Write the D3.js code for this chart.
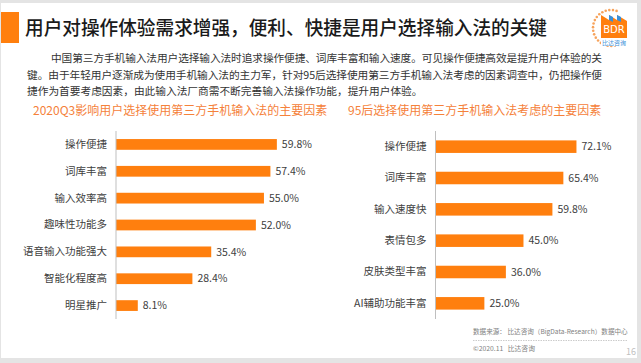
<!DOCTYPE html>
<html>
<head>
<meta charset="utf-8">
<script src="https://cdn.jsdelivr.net/npm/d3@7"></script>
<style>
  body { margin: 0; background: #e4e4e4; }
  svg { display: block; font-family: "Noto Sans CJK SC", "Noto Sans", sans-serif; }
</style>
</head>
<body>
<div id="chart-area"></div>
<script>
// data
var leftTitle = "2020Q3影响用户选择使用第三方手机输入法的主要因素"
var leftCats = ["操作便捷", "词库丰富", "输入效率高", "趣味性功能多", "语音输入功能强大", "智能化程度高", "明星推广"]
var leftVals = [59.8, 57.4, 55.0, 52.0, 35.4, 28.4, 8.1]

var rightTitle = "95后选择使用第三方手机输入法考虑的主要因素"
var rightCats = ["操作便捷", "词库丰富", "输入速度快", "表情包多", "皮肤类型丰富", "AI辅助功能丰富"]
var rightVals = [72.1, 65.4, 59.8, 45.0, 36.0, 25.0]

var pageTitle = "用户对操作体验需求增强，便利、快捷是用户选择输入法的关键"
var paraLines = [
    "中国第三方手机输入法用户选择输入法时追求操作便捷、词库丰富和输入速度。可见操作便捷高效是提升用户体验的关",
    "键。由于年轻用户逐渐成为使用手机输入法的主力军，针对95后选择使用第三方手机输入法考虑的因素调查中，仍把操作便",
    "捷作为首要考虑因素，由此输入法厂商需不断完善输入法操作功能，提升用户体验。"
]
var sourceText = "数据来源： 比达咨询（BigData-Research）数据中心"
var copyText = "©2020.11   比达咨询"
var pageNum = "16"

var orange = "#ff7f0e"
var titleOrange = "#f5813a"

var width = 641, height = 363

var svg = d3.select("#chart-area")
    .append("svg")
    .attr("width", width)
    .attr("height", height)

// white slide
svg.append("rect")
    .attr("x", 1).attr("y", 3)
    .attr("width", 636).attr("height", 355)
    .attr("fill", "#fff")

// title block
svg.append("rect")
    .attr("x", 1).attr("y", 12)
    .attr("width", 18).attr("height", 31)
    .attr("fill", orange)

svg.append("text")
    .attr("x", 25).attr("y", 35)
    .attr("font-size", "19px")
    .attr("font-weight", 500)
    .attr("fill", "#1a1a1a")
    .attr("textLength", 522)
    .attr("lengthAdjust", "spacingAndGlyphs")
    .text(pageTitle)

// paragraph
var paraX = [51, 27, 27]
var paraLen = [551, 575, null]
paraLines.forEach(function(line, i) {
    var t = svg.append("text")
        .attr("x", paraX[i])
        .attr("y", 62 + i * 16.5)
        .attr("font-size", "10.7px")
        .attr("fill", "#333")
        .text(line)
    if (paraLen[i]) {
        t.attr("textLength", paraLen[i]).attr("lengthAdjust", "spacing")
    }
})

// logo (rough)
var logo = svg.append("g").attr("transform", "translate(611,28)")
d3.range(0, 20).forEach(function(k) {
    // dotted ring from top round the left side to the bottom
    var a = Math.PI * (0.4 + k * 0.065)
    logo.append("circle")
        .attr("cx", 18 * Math.cos(a))
        .attr("cy", -18 * Math.sin(a))
        .attr("r", 1.3)
        .attr("fill", "#f7a35c")
})
logo.append("path")
    .attr("d", "M-10,-13 L-2,-8 L-2,-13 L6,-8 L6,-13 L16,-7 L16,10 L-10,10 Z")
    .attr("fill", orange)
logo.append("path")
    .attr("d", "M-2,-13 L-2,-8 L2,-6 L2,-11 Z M6,-13 L6,-8 L10,-6 L10,-11 Z")
    .attr("fill", "#3b8fd8")
logo.append("text")
    .attr("x", 3).attr("y", 5)
    .attr("text-anchor", "middle")
    .attr("font-size", "10px")
    .attr("font-family", "DejaVu Sans, sans-serif")
    .attr("fill", "#fff")
    .text("BDR")
logo.append("rect")
    .attr("x", -10).attr("y", 10).attr("width", 26).attr("height", 8)
    .attr("fill", "#fff")
logo.append("text")
    .attr("x", 3).attr("y", 16.5)
    .attr("text-anchor", "middle")
    .attr("font-size", "6px")
    .attr("fill", "#3b8fd8")
    .text("比达咨询")

// one bar chart
function drawBars(cats, vals, title, titleX, axisX, pxPer100) {
    var g = svg.append("g")

    g.append("text")
        .attr("x", titleX).attr("y", 115)
        .attr("font-size", "12px")
        .attr("fill", titleOrange)
        .text(title)

    var xScale = d3.scaleLinear()
        .domain([0, 100])
        .range([axisX, axisX + pxPer100])

    var yScale = d3.scaleBand()
        .domain(cats)
        .range([131, 319])
        .paddingInner(0.6)
        .paddingOuter(0.3)

    g.selectAll(".bar")
        .data(vals)
        .enter().append("rect")
        .attr("class", "bar")
        .attr("x", xScale(0))
        .attr("y", function(d, i) { return yScale(cats[i]) })
        .attr("width", function(d) { return xScale(d) - xScale(0) })
        .attr("height", yScale.bandwidth())
        .attr("fill", orange)

    g.selectAll(".val")
        .data(vals)
        .enter().append("text")
        .attr("class", "val")
        .attr("x", function(d) { return xScale(d) + 5 })
        .attr("y", function(d, i) { return yScale(cats[i]) + yScale.bandwidth() / 2 })
        .attr("dy", "0.35em")
        .attr("font-size", "10.5px")
        .attr("fill", "#404040")
        .text(function(d) { return d.toFixed(1) + "%" })

    var leftAxis = d3.axisLeft(yScale).tickSize(0).tickPadding(9)
    var ax = g.append("g")
        .attr("transform", "translate(" + axisX + ",0)")
        .call(leftAxis)
    ax.select(".domain").attr("stroke", "#bfbfbf").attr("d", "M0,131V319")
    ax.selectAll("text")
        .attr("font-size", "10.5px")
        .attr("font-family", "Noto Sans CJK SC, sans-serif")
        .attr("fill", "#404040")
}

drawBars(leftCats, leftVals, leftTitle, 33, 116, 269)
drawBars(rightCats, rightVals, rightTitle, 348, 435.5, 195.5)

// footer
svg.append("text")
    .attr("x", 473).attr("y", 334)
    .attr("font-size", "6.6px")
    .attr("fill", "#7f7f7f")
    .text(sourceText)
svg.append("line")
    .attr("x1", 473).attr("x2", 627)
    .attr("y1", 340.5).attr("y2", 340.5)
    .attr("stroke", "#bfbfbf")
    .attr("stroke-width", 0.8)
    .attr("stroke-dasharray", "1.5,1")
svg.append("text")
    .attr("x", 473).attr("y", 351)
    .attr("font-size", "6.8px")
    .attr("fill", "#7f7f7f")
    .attr("xml:space", "preserve")
    .text(copyText)
svg.append("text")
    .attr("x", 636).attr("y", 355)
    .attr("text-anchor", "end")
    .attr("font-size", "9px")
    .attr("fill", "#bfbfbf")
    .text(pageNum)
</script>
</body>
</html>
